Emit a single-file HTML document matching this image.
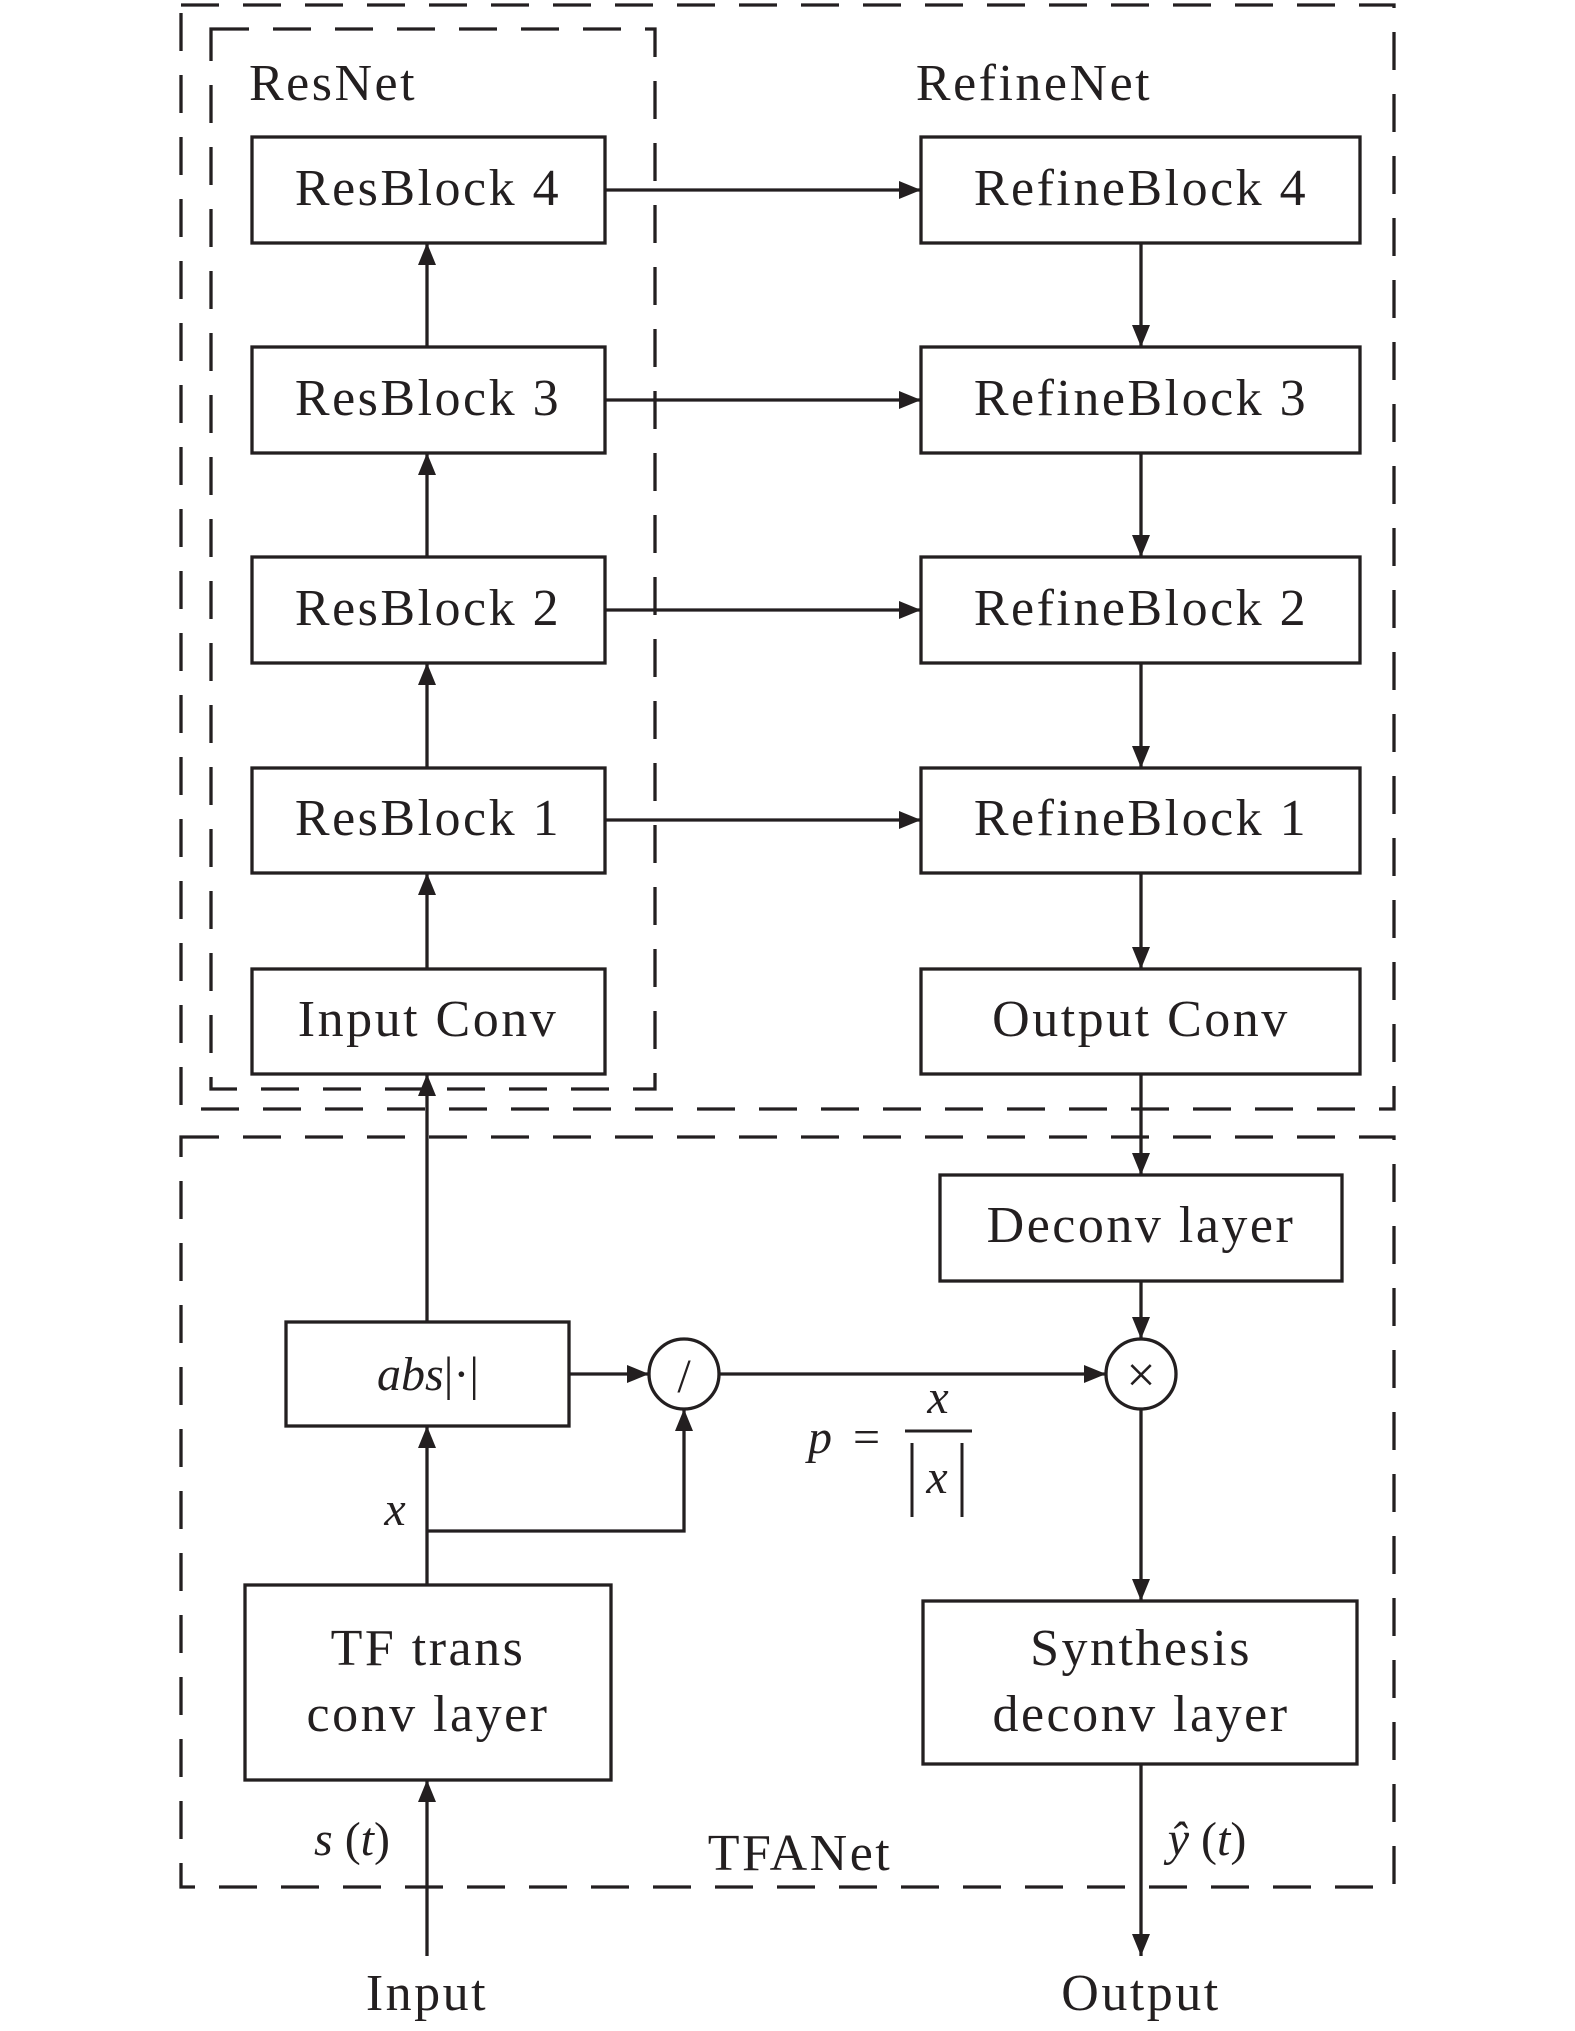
<!DOCTYPE html>
<html><head><meta charset="utf-8"><style>
html,body{margin:0;padding:0;background:#fff;}
svg{display:block;}
text{font-family:"Liberation Serif",serif;fill:#231f20;}
.b{font-size:52px;letter-spacing:2.5px;}
.i{font-style:italic;}
</style></head><body>
<svg width="1575" height="2031" viewBox="0 0 1575 2031" xmlns="http://www.w3.org/2000/svg">
<defs>
<marker id="a" viewBox="0 0 22 22" refX="22" refY="11" markerWidth="22" markerHeight="22" markerUnits="userSpaceOnUse" orient="auto">
<path d="M0,2 L22,11 L0,20 z" fill="#231f20"/></marker>
</defs>
<g fill="none" stroke="#231f20" stroke-width="3.3" stroke-dasharray="38,24">
<rect x="181" y="5" width="1213" height="1104"/>
<rect x="211" y="29" width="444" height="1060"/>
<rect x="181" y="1137" width="1213" height="750"/>
</g>
<g fill="#fff" stroke="#231f20" stroke-width="3.3">
<rect x="252" y="137" width="353" height="106"/>
<rect x="252" y="347" width="353" height="106"/>
<rect x="252" y="557" width="353" height="106"/>
<rect x="252" y="768" width="353" height="105"/>
<rect x="252" y="969" width="353" height="105"/>
<rect x="921" y="137" width="439" height="106"/>
<rect x="921" y="347" width="439" height="106"/>
<rect x="921" y="557" width="439" height="106"/>
<rect x="921" y="768" width="439" height="105"/>
<rect x="921" y="969" width="439" height="105"/>
<rect x="940" y="1175" width="402" height="106"/>
<rect x="286" y="1322" width="283" height="104"/>
<rect x="245" y="1585" width="366" height="195"/>
<rect x="923" y="1601" width="434" height="163"/>
<circle cx="684" cy="1374" r="35"/>
<circle cx="1141" cy="1374" r="35"/>
</g>
<g stroke="#231f20" stroke-width="3.3" fill="none" marker-end="url(#a)">
<line x1="605" y1="190" x2="921" y2="190"/>
<line x1="605" y1="400" x2="921" y2="400"/>
<line x1="605" y1="610" x2="921" y2="610"/>
<line x1="605" y1="820" x2="921" y2="820"/>
<line x1="427" y1="347" x2="427" y2="243"/>
<line x1="427" y1="557" x2="427" y2="453"/>
<line x1="427" y1="768" x2="427" y2="663"/>
<line x1="427" y1="969" x2="427" y2="873"/>
<line x1="1141" y1="243" x2="1141" y2="347"/>
<line x1="1141" y1="453" x2="1141" y2="557"/>
<line x1="1141" y1="663" x2="1141" y2="768"/>
<line x1="1141" y1="873" x2="1141" y2="969"/>
<line x1="1141" y1="1074" x2="1141" y2="1175"/>
<line x1="1141" y1="1281" x2="1141" y2="1339"/>
<line x1="1141" y1="1409" x2="1141" y2="1601"/>
<line x1="1141" y1="1764" x2="1141" y2="1956"/>
<line x1="427" y1="1322" x2="427" y2="1074"/>
<line x1="427" y1="1585" x2="427" y2="1426"/>
<line x1="427" y1="1956" x2="427" y2="1780"/>
<line x1="569" y1="1374" x2="649" y2="1374"/>
<line x1="719" y1="1374" x2="1106" y2="1374"/>
<polyline points="427,1531 684,1531 684,1409"/>
</g>
<g class="b" text-anchor="middle">
<text x="428" y="205">ResBlock 4</text>
<text x="428" y="415">ResBlock 3</text>
<text x="428" y="625">ResBlock 2</text>
<text x="428" y="835">ResBlock 1</text>
<text x="428" y="1036">Input Conv</text>
<text x="1141" y="205">RefineBlock 4</text>
<text x="1141" y="415">RefineBlock 3</text>
<text x="1141" y="625">RefineBlock 2</text>
<text x="1141" y="835">RefineBlock 1</text>
<text x="1141" y="1036">Output Conv</text>
<text x="1141" y="1242">Deconv layer</text>
<text x="428" y="1665">TF trans</text>
<text x="428" y="1731">conv layer</text>
<text x="1141" y="1665">Synthesis</text>
<text x="1141" y="1731">deconv layer</text>
<text x="333" y="100">ResNet</text>
<text x="1034" y="100">RefineNet</text>
<text x="800" y="1870">TFANet</text>
<text x="427" y="2010">Input</text>
<text x="1141" y="2010">Output</text>
</g>
<text x="428" y="1390" text-anchor="middle" style="font-size:48px"><tspan class="i">abs</tspan>|·|</text>
<text x="684" y="1392" text-anchor="middle" style="font-size:48px">/</text>
<text x="1141" y="1392" text-anchor="middle" style="font-size:52px">×</text>
<text x="395" y="1525" class="i" style="font-size:48px" text-anchor="middle">x</text>
<text x="808" y="1453" class="i" style="font-size:48px">p</text>
<text x="853" y="1453" style="font-size:48px">=</text>
<text x="938" y="1413" class="i" style="font-size:48px" text-anchor="middle">x</text>
<line x1="905" y1="1431" x2="972" y2="1431" stroke="#231f20" stroke-width="3"/>
<line x1="912" y1="1443" x2="912" y2="1517" stroke="#231f20" stroke-width="3"/>
<line x1="962" y1="1443" x2="962" y2="1517" stroke="#231f20" stroke-width="3"/>
<text x="937" y="1493" class="i" style="font-size:48px" text-anchor="middle">x</text>
<text x="352" y="1855" style="font-size:48px" text-anchor="middle"><tspan class="i">s</tspan> (<tspan class="i">t</tspan>)</text>
<text x="1207" y="1855" style="font-size:48px" text-anchor="middle"><tspan class="i">ŷ</tspan> (<tspan class="i">t</tspan>)</text>
</svg>
</body></html>
